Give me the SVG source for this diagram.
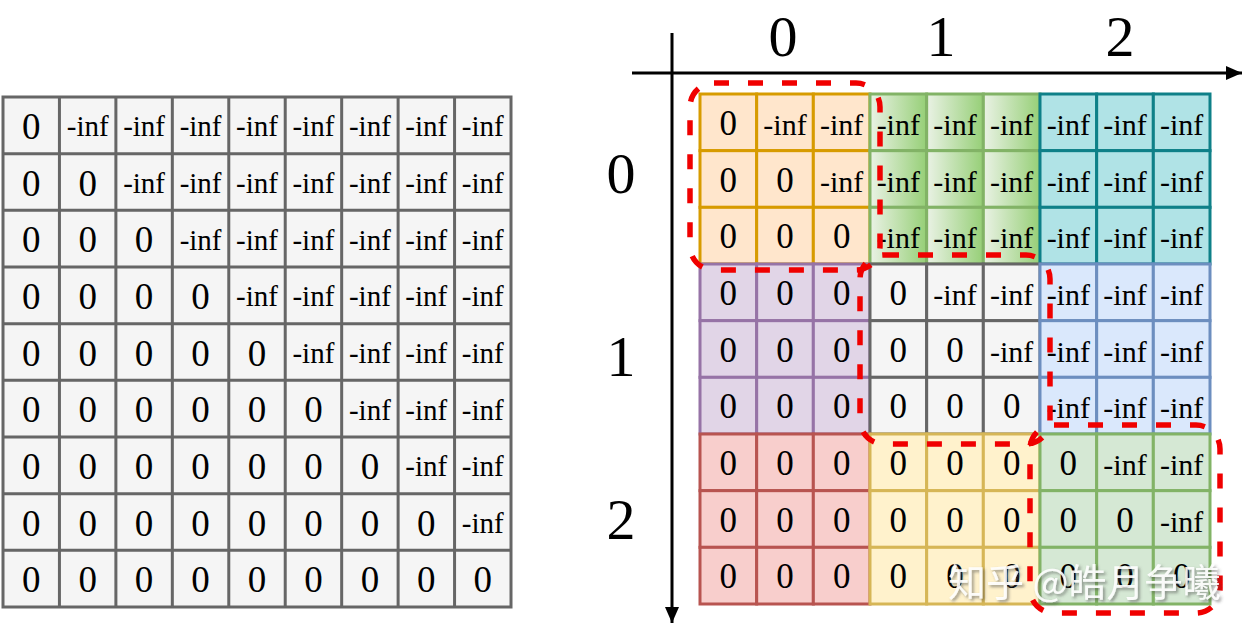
<svg xmlns="http://www.w3.org/2000/svg" width="1252" height="635" viewBox="0 0 1252 635">
<style>
text{font-family:"Liberation Serif","Times New Roman",serif;fill:#000;text-anchor:middle}
.lz{font-size:37px}
.ln{font-size:29px}
.rz{font-size:35px}
.rn{font-size:30px}
.ax{font-size:58px}
rect{stroke-width:3}
.gr{fill:#f5f5f5;stroke:#666666}
.or{fill:#ffe6cc;stroke:#d79b00}
.gg{fill:url(#gg);stroke:#82b366}
.te{fill:#b0e3e6;stroke:#0e8088}
.pu{fill:#e1d5e7;stroke:#9673a6}
.bl{fill:#dae8fc;stroke:#6c8ebf}
.re{fill:#f8cecc;stroke:#b85450}
.ye{fill:#fff2cc;stroke:#d6b656}
.gn{fill:#d5e8d4;stroke:#82b366}
.dash{fill:none;stroke:#f00000;stroke-width:5.5;stroke-dasharray:15 19}
.axis{stroke:#000;stroke-width:3;fill:none}
.wm{font-family:"Noto Sans CJK SC","Noto Sans",sans-serif;font-size:38px;fill:#fff;fill-opacity:0.9;text-anchor:start}
</style>
<defs>
<linearGradient id="gg" x1="0" y1="0" x2="1" y2="0">
<stop offset="0" stop-color="#eaf2e5"/>
<stop offset="1" stop-color="#96cf77"/>
</linearGradient>
<marker id="arr" markerUnits="userSpaceOnUse" markerWidth="18" markerHeight="18" refX="16" refY="8" orient="auto">
<path d="M0,1 L16,8 L0,15 Z" fill="#000"/>
</marker>
<filter id="sh" x="-10%" y="-30%" width="120%" height="160%">
<feDropShadow dx="2" dy="2" stdDeviation="1.5" flood-color="#444" flood-opacity="0.6"/>
</filter>
</defs>

<g id="left-matrix">
<rect class="gr" x="3" y="97" width="508" height="510"/>
<path d="M59.44,97V607M115.89,97V607M172.33,97V607M228.78,97V607M285.22,97V607M341.67,97V607M398.11,97V607M454.56,97V607M3,153.67H511M3,210.33H511M3,267H511M3,323.67H511M3,380.33H511M3,437H511M3,493.67H511M3,550.33H511" stroke="#666666" stroke-width="3" fill="none"/>
<g class="lz">
<text x="31.2" y="138.8">0</text>
<text x="31.2" y="195.5">0</text><text x="87.7" y="195.5">0</text>
<text x="31.2" y="252.2">0</text><text x="87.7" y="252.2">0</text><text x="144.1" y="252.2">0</text>
<text x="31.2" y="308.8">0</text><text x="87.7" y="308.8">0</text><text x="144.1" y="308.8">0</text><text x="200.6" y="308.8">0</text>
<text x="31.2" y="365.5">0</text><text x="87.7" y="365.5">0</text><text x="144.1" y="365.5">0</text><text x="200.6" y="365.5">0</text><text x="257" y="365.5">0</text>
<text x="31.2" y="422.2">0</text><text x="87.7" y="422.2">0</text><text x="144.1" y="422.2">0</text><text x="200.6" y="422.2">0</text><text x="257" y="422.2">0</text><text x="313.4" y="422.2">0</text>
<text x="31.2" y="478.8">0</text><text x="87.7" y="478.8">0</text><text x="144.1" y="478.8">0</text><text x="200.6" y="478.8">0</text><text x="257" y="478.8">0</text><text x="313.4" y="478.8">0</text><text x="369.9" y="478.8">0</text>
<text x="31.2" y="535.5">0</text><text x="87.7" y="535.5">0</text><text x="144.1" y="535.5">0</text><text x="200.6" y="535.5">0</text><text x="257" y="535.5">0</text><text x="313.4" y="535.5">0</text><text x="369.9" y="535.5">0</text><text x="426.3" y="535.5">0</text>
<text x="31.2" y="592.2">0</text><text x="87.7" y="592.2">0</text><text x="144.1" y="592.2">0</text><text x="200.6" y="592.2">0</text><text x="257" y="592.2">0</text><text x="313.4" y="592.2">0</text><text x="369.9" y="592.2">0</text><text x="426.3" y="592.2">0</text><text x="482.8" y="592.2">0</text>
</g>
<g class="ln">
<text x="87.7" y="136.3">-inf</text><text x="144.1" y="136.3">-inf</text><text x="200.6" y="136.3">-inf</text><text x="257" y="136.3">-inf</text><text x="313.4" y="136.3">-inf</text><text x="369.9" y="136.3">-inf</text><text x="426.3" y="136.3">-inf</text><text x="482.8" y="136.3">-inf</text>
<text x="144.1" y="193">-inf</text><text x="200.6" y="193">-inf</text><text x="257" y="193">-inf</text><text x="313.4" y="193">-inf</text><text x="369.9" y="193">-inf</text><text x="426.3" y="193">-inf</text><text x="482.8" y="193">-inf</text>
<text x="200.6" y="249.7">-inf</text><text x="257" y="249.7">-inf</text><text x="313.4" y="249.7">-inf</text><text x="369.9" y="249.7">-inf</text><text x="426.3" y="249.7">-inf</text><text x="482.8" y="249.7">-inf</text>
<text x="257" y="306.3">-inf</text><text x="313.4" y="306.3">-inf</text><text x="369.9" y="306.3">-inf</text><text x="426.3" y="306.3">-inf</text><text x="482.8" y="306.3">-inf</text>
<text x="313.4" y="363">-inf</text><text x="369.9" y="363">-inf</text><text x="426.3" y="363">-inf</text><text x="482.8" y="363">-inf</text>
<text x="369.9" y="419.7">-inf</text><text x="426.3" y="419.7">-inf</text><text x="482.8" y="419.7">-inf</text>
<text x="426.3" y="476.3">-inf</text><text x="482.8" y="476.3">-inf</text>
<text x="482.8" y="533">-inf</text>
</g>
</g>

<g id="connectors">
<line class="axis" x1="632" y1="73" x2="1242" y2="73" marker-end="url(#arr)"/>
<line class="axis" x1="672" y1="33" x2="672" y2="623" marker-end="url(#arr)"/>
</g>

<g id="axis-labels" class="ax">
<text x="783" y="56">0</text>
<text x="941" y="56">1</text>
<text x="1120" y="56">2</text>
<text x="621" y="193">0</text>
<text x="621" y="376">1</text>
<text x="621" y="539">2</text>
</g>

<g id="block-0-0">
<rect class="or" x="700" y="94" width="56.67" height="56.67"/><rect class="or" x="756.67" y="94" width="56.67" height="56.67"/><rect class="or" x="813.33" y="94" width="56.67" height="56.67"/>
<rect class="or" x="700" y="150.67" width="56.67" height="56.67"/><rect class="or" x="756.67" y="150.67" width="56.67" height="56.67"/><rect class="or" x="813.33" y="150.67" width="56.67" height="56.67"/>
<rect class="or" x="700" y="207.33" width="56.67" height="56.67"/><rect class="or" x="756.67" y="207.33" width="56.67" height="56.67"/><rect class="or" x="813.33" y="207.33" width="56.67" height="56.67"/>
<text class="rz" x="728.3" y="134.8">0</text><text class="rn" x="785" y="134.8">-inf</text><text class="rn" x="841.7" y="134.8">-inf</text>
<text class="rz" x="728.3" y="191.5">0</text><text class="rz" x="785" y="191.5">0</text><text class="rn" x="841.7" y="191.5">-inf</text>
<text class="rz" x="728.3" y="248.2">0</text><text class="rz" x="785" y="248.2">0</text><text class="rz" x="841.7" y="248.2">0</text>
</g>

<g id="block-0-1">
<rect class="gg" x="870" y="94" width="56.67" height="56.67"/><rect class="gg" x="926.67" y="94" width="56.67" height="56.67"/><rect class="gg" x="983.33" y="94" width="56.67" height="56.67"/>
<rect class="gg" x="870" y="150.67" width="56.67" height="56.67"/><rect class="gg" x="926.67" y="150.67" width="56.67" height="56.67"/><rect class="gg" x="983.33" y="150.67" width="56.67" height="56.67"/>
<rect class="gg" x="870" y="207.33" width="56.67" height="56.67"/><rect class="gg" x="926.67" y="207.33" width="56.67" height="56.67"/><rect class="gg" x="983.33" y="207.33" width="56.67" height="56.67"/>
<text class="rn" x="898.3" y="134.8">-inf</text><text class="rn" x="955" y="134.8">-inf</text><text class="rn" x="1011.7" y="134.8">-inf</text>
<text class="rn" x="898.3" y="191.5">-inf</text><text class="rn" x="955" y="191.5">-inf</text><text class="rn" x="1011.7" y="191.5">-inf</text>
<text class="rn" x="898.3" y="248.2">-inf</text><text class="rn" x="955" y="248.2">-inf</text><text class="rn" x="1011.7" y="248.2">-inf</text>
</g>

<g id="block-0-2">
<rect class="te" x="1040" y="94" width="56.67" height="56.67"/><rect class="te" x="1096.67" y="94" width="56.67" height="56.67"/><rect class="te" x="1153.33" y="94" width="56.67" height="56.67"/>
<rect class="te" x="1040" y="150.67" width="56.67" height="56.67"/><rect class="te" x="1096.67" y="150.67" width="56.67" height="56.67"/><rect class="te" x="1153.33" y="150.67" width="56.67" height="56.67"/>
<rect class="te" x="1040" y="207.33" width="56.67" height="56.67"/><rect class="te" x="1096.67" y="207.33" width="56.67" height="56.67"/><rect class="te" x="1153.33" y="207.33" width="56.67" height="56.67"/>
<text class="rn" x="1068.3" y="134.8">-inf</text><text class="rn" x="1125" y="134.8">-inf</text><text class="rn" x="1181.7" y="134.8">-inf</text>
<text class="rn" x="1068.3" y="191.5">-inf</text><text class="rn" x="1125" y="191.5">-inf</text><text class="rn" x="1181.7" y="191.5">-inf</text>
<text class="rn" x="1068.3" y="248.2">-inf</text><text class="rn" x="1125" y="248.2">-inf</text><text class="rn" x="1181.7" y="248.2">-inf</text>
</g>

<g id="block-1-0">
<rect class="pu" x="700" y="264" width="56.67" height="56.67"/><rect class="pu" x="756.67" y="264" width="56.67" height="56.67"/><rect class="pu" x="813.33" y="264" width="56.67" height="56.67"/>
<rect class="pu" x="700" y="320.67" width="56.67" height="56.67"/><rect class="pu" x="756.67" y="320.67" width="56.67" height="56.67"/><rect class="pu" x="813.33" y="320.67" width="56.67" height="56.67"/>
<rect class="pu" x="700" y="377.33" width="56.67" height="56.67"/><rect class="pu" x="756.67" y="377.33" width="56.67" height="56.67"/><rect class="pu" x="813.33" y="377.33" width="56.67" height="56.67"/>
<text class="rz" x="728.3" y="304.8">0</text><text class="rz" x="785" y="304.8">0</text><text class="rz" x="841.7" y="304.8">0</text>
<text class="rz" x="728.3" y="361.5">0</text><text class="rz" x="785" y="361.5">0</text><text class="rz" x="841.7" y="361.5">0</text>
<text class="rz" x="728.3" y="418.2">0</text><text class="rz" x="785" y="418.2">0</text><text class="rz" x="841.7" y="418.2">0</text>
</g>

<g id="block-1-1">
<rect class="gr" x="870" y="264" width="56.67" height="56.67"/><rect class="gr" x="926.67" y="264" width="56.67" height="56.67"/><rect class="gr" x="983.33" y="264" width="56.67" height="56.67"/>
<rect class="gr" x="870" y="320.67" width="56.67" height="56.67"/><rect class="gr" x="926.67" y="320.67" width="56.67" height="56.67"/><rect class="gr" x="983.33" y="320.67" width="56.67" height="56.67"/>
<rect class="gr" x="870" y="377.33" width="56.67" height="56.67"/><rect class="gr" x="926.67" y="377.33" width="56.67" height="56.67"/><rect class="gr" x="983.33" y="377.33" width="56.67" height="56.67"/>
<text class="rz" x="898.3" y="304.8">0</text><text class="rn" x="955" y="304.8">-inf</text><text class="rn" x="1011.7" y="304.8">-inf</text>
<text class="rz" x="898.3" y="361.5">0</text><text class="rz" x="955" y="361.5">0</text><text class="rn" x="1011.7" y="361.5">-inf</text>
<text class="rz" x="898.3" y="418.2">0</text><text class="rz" x="955" y="418.2">0</text><text class="rz" x="1011.7" y="418.2">0</text>
</g>

<g id="block-1-2">
<rect class="bl" x="1040" y="264" width="56.67" height="56.67"/><rect class="bl" x="1096.67" y="264" width="56.67" height="56.67"/><rect class="bl" x="1153.33" y="264" width="56.67" height="56.67"/>
<rect class="bl" x="1040" y="320.67" width="56.67" height="56.67"/><rect class="bl" x="1096.67" y="320.67" width="56.67" height="56.67"/><rect class="bl" x="1153.33" y="320.67" width="56.67" height="56.67"/>
<rect class="bl" x="1040" y="377.33" width="56.67" height="56.67"/><rect class="bl" x="1096.67" y="377.33" width="56.67" height="56.67"/><rect class="bl" x="1153.33" y="377.33" width="56.67" height="56.67"/>
<text class="rn" x="1068.3" y="304.8">-inf</text><text class="rn" x="1125" y="304.8">-inf</text><text class="rn" x="1181.7" y="304.8">-inf</text>
<text class="rn" x="1068.3" y="361.5">-inf</text><text class="rn" x="1125" y="361.5">-inf</text><text class="rn" x="1181.7" y="361.5">-inf</text>
<text class="rn" x="1068.3" y="418.2">-inf</text><text class="rn" x="1125" y="418.2">-inf</text><text class="rn" x="1181.7" y="418.2">-inf</text>
</g>

<g id="block-2-0">
<rect class="re" x="700" y="434" width="56.67" height="56.67"/><rect class="re" x="756.67" y="434" width="56.67" height="56.67"/><rect class="re" x="813.33" y="434" width="56.67" height="56.67"/>
<rect class="re" x="700" y="490.67" width="56.67" height="56.67"/><rect class="re" x="756.67" y="490.67" width="56.67" height="56.67"/><rect class="re" x="813.33" y="490.67" width="56.67" height="56.67"/>
<rect class="re" x="700" y="547.33" width="56.67" height="56.67"/><rect class="re" x="756.67" y="547.33" width="56.67" height="56.67"/><rect class="re" x="813.33" y="547.33" width="56.67" height="56.67"/>
<text class="rz" x="728.3" y="474.8">0</text><text class="rz" x="785" y="474.8">0</text><text class="rz" x="841.7" y="474.8">0</text>
<text class="rz" x="728.3" y="531.5">0</text><text class="rz" x="785" y="531.5">0</text><text class="rz" x="841.7" y="531.5">0</text>
<text class="rz" x="728.3" y="588.2">0</text><text class="rz" x="785" y="588.2">0</text><text class="rz" x="841.7" y="588.2">0</text>
</g>

<g id="block-2-1">
<rect class="ye" x="870" y="434" width="56.67" height="56.67"/><rect class="ye" x="926.67" y="434" width="56.67" height="56.67"/><rect class="ye" x="983.33" y="434" width="56.67" height="56.67"/>
<rect class="ye" x="870" y="490.67" width="56.67" height="56.67"/><rect class="ye" x="926.67" y="490.67" width="56.67" height="56.67"/><rect class="ye" x="983.33" y="490.67" width="56.67" height="56.67"/>
<rect class="ye" x="870" y="547.33" width="56.67" height="56.67"/><rect class="ye" x="926.67" y="547.33" width="56.67" height="56.67"/><rect class="ye" x="983.33" y="547.33" width="56.67" height="56.67"/>
<text class="rz" x="898.3" y="474.8">0</text><text class="rz" x="955" y="474.8">0</text><text class="rz" x="1011.7" y="474.8">0</text>
<text class="rz" x="898.3" y="531.5">0</text><text class="rz" x="955" y="531.5">0</text><text class="rz" x="1011.7" y="531.5">0</text>
<text class="rz" x="898.3" y="588.2">0</text><text class="rz" x="955" y="588.2">0</text><text class="rz" x="1011.7" y="588.2">0</text>
</g>

<g id="block-2-2">
<rect class="gn" x="1040" y="434" width="56.67" height="56.67"/><rect class="gn" x="1096.67" y="434" width="56.67" height="56.67"/><rect class="gn" x="1153.33" y="434" width="56.67" height="56.67"/>
<rect class="gn" x="1040" y="490.67" width="56.67" height="56.67"/><rect class="gn" x="1096.67" y="490.67" width="56.67" height="56.67"/><rect class="gn" x="1153.33" y="490.67" width="56.67" height="56.67"/>
<rect class="gn" x="1040" y="547.33" width="56.67" height="56.67"/><rect class="gn" x="1096.67" y="547.33" width="56.67" height="56.67"/><rect class="gn" x="1153.33" y="547.33" width="56.67" height="56.67"/>
<text class="rz" x="1068.3" y="474.8">0</text><text class="rn" x="1125" y="474.8">-inf</text><text class="rn" x="1181.7" y="474.8">-inf</text>
<text class="rz" x="1068.3" y="531.5">0</text><text class="rz" x="1125" y="531.5">0</text><text class="rn" x="1181.7" y="531.5">-inf</text>
<text class="rz" x="1068.3" y="588.2">0</text><text class="rz" x="1125" y="588.2">0</text><text class="rz" x="1181.7" y="588.2">0</text>
</g>

<g id="dashed-highlights">
<rect class="dash" x="690" y="83" width="190" height="187" rx="24" ry="24"/>
<rect class="dash" x="860" y="255" width="190" height="189" rx="24" ry="24"/>
<rect class="dash" x="1030" y="425" width="190" height="188" rx="24" ry="24"/>
</g>

<text class="wm" x="948" y="596" filter="url(#sh)">知乎 @皓月争曦</text>
</svg>
